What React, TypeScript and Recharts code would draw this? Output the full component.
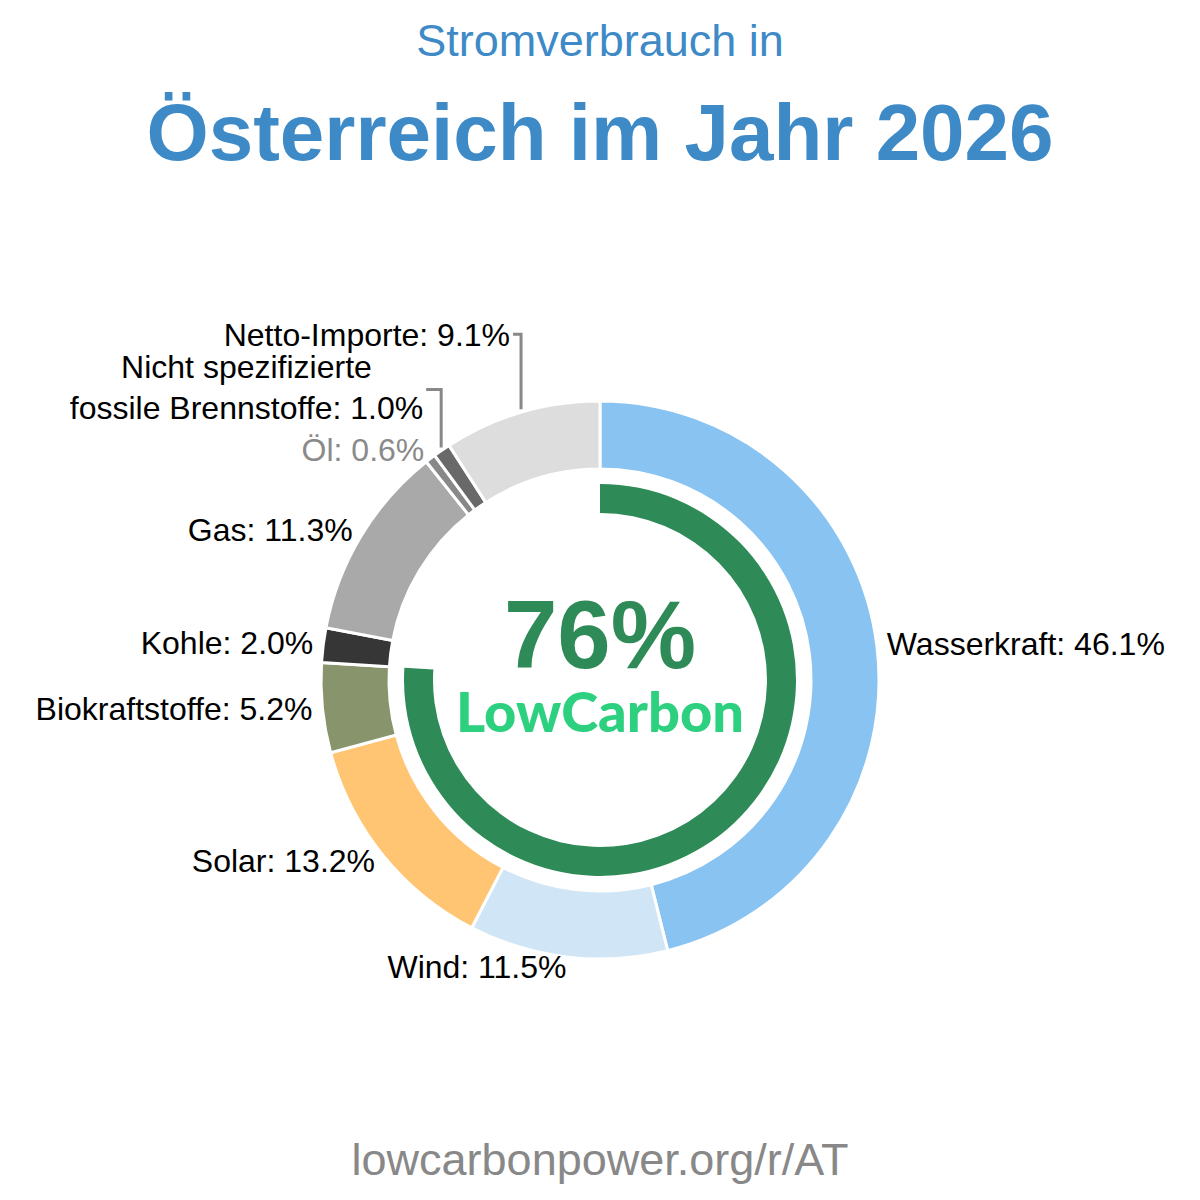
import { PieChart, Pie, Cell } from "recharts";

const SOURCES = [
  "Wasserkraft",
  "Wind",
  "Solar",
  "Biokraftstoffe",
  "Kohle",
  "Gas",
  "Öl",
  "Nicht spezifizierte fossile Brennstoffe",
  "Netto-Importe",
];
const SHARES = [46.1, 11.5, 13.2, 5.2, 2.0, 11.3, 0.6, 1.0, 9.1];
const LOW_CARBON_SHARE = 76;
const TITLE_TOP = "Stromverbrauch in";
const TITLE_MAIN = "Österreich im Jahr 2026";
const FOOTER = "lowcarbonpower.org/r/AT";

const COLORS: { [key: string]: string } = {
  Wasserkraft: "#89c3f2",
  Wind: "#d0e6f6",
  Solar: "#ffc572",
  Biokraftstoffe: "#88946b",
  Kohle: "#363636",
  Gas: "#a9a9a9",
  "Öl": "#888888",
  "Nicht spezifizierte fossile Brennstoffe": "#696969",
  "Netto-Importe": "#dddddd",
};

// labels that get a leader line (rise = px up from slice edge, tail = px left)
const LEADERS: { [key: string]: { rise: number; tail: number; wrap?: boolean } } = {
  "Netto-Importe": { rise: 77, tail: 8 },
  "Nicht spezifizierte fossile Brennstoffe": { rise: 60, tail: 15, wrap: true },
};
const MUTED_LABELS = ["Öl"];

const FONT = "'Liberation Sans', Arial, sans-serif";
const LABEL_SIZE = 32;
const RAD = Math.PI / 180;

const pieData = SOURCES.map((name, i) => ({ name, value: SHARES[i] }));
const ringData = [
  { name: "LowCarbon", value: LOW_CARBON_SHARE },
  { name: "Rest", value: 100 - LOW_CARBON_SHARE },
];

let measureCtx: CanvasRenderingContext2D | null = null;
const textWidth = (s: string) => {
  if (!measureCtx) measureCtx = document.createElement("canvas").getContext("2d");
  if (!measureCtx) return s.length * LABEL_SIZE * 0.5;
  measureCtx.font = `${LABEL_SIZE}px ${FONT}`;
  return measureCtx.measureText(s).width;
};

const renderLabel = (props: any) => {
  const { cx, cy, midAngle, outerRadius, name, value } = props;
  const cos = Math.cos(-midAngle * RAD);
  const sin = Math.sin(-midAngle * RAD);
  const text = `${name}: ${Number(value).toFixed(1)}%`;
  const fill = MUTED_LABELS.includes(name) ? "#8a8a8a" : "#000";
  const leader = LEADERS[name];

  if (leader) {
    const x0 = cx + (outerRadius + 1) * cos;
    const y0 = cy + (outerRadius + 1) * sin;
    const y1 = y0 - leader.rise;
    const x1 = x0 - leader.tail;
    const tx = x1 - 3;
    let content;
    if (leader.wrap) {
      const words = name.split(" ");
      const first = words.slice(0, 2).join(" ");
      const second = `${words.slice(2).join(" ")}: ${Number(value).toFixed(1)}%`;
      const mid = tx - textWidth(second) / 2;
      content = (
        <text x={mid} y={y1} textAnchor="middle" fontSize={LABEL_SIZE} fontFamily={FONT} fill={fill}>
          <tspan x={mid} dy="-0.35em">{first}</tspan>
          <tspan x={mid} dy="1.27em">{second}</tspan>
        </text>
      );
    } else {
      content = (
        <text x={tx} y={y1} dy="0.35em" textAnchor="end" fontSize={LABEL_SIZE} fontFamily={FONT} fill={fill}>
          {text}
        </text>
      );
    }
    return (
      <g>
        <polyline
          points={`${x0},${y0 - 2} ${x0},${y1} ${x1},${y1}`}
          fill="none"
          stroke="#888"
          strokeWidth={3}
        />
        {content}
      </g>
    );
  }

  const r = outerRadius + 10;
  const x = cx + r * cos;
  const y = cy + r * sin;
  return (
    <text
      x={x}
      y={y}
      dy="0.33em"
      textAnchor={x > cx ? "start" : "end"}
      fontSize={LABEL_SIZE}
      fontFamily={FONT}
      fill={fill}
    >
      {text}
    </text>
  );
};

const App = () => {
  return (
    <div style={{ position: "absolute", left: 0, top: 0, width: 1200, height: 1200, background: "#fff" }}>
      <PieChart width={1200} height={1200} margin={{ top: 0, right: 0, bottom: 0, left: 0 }}>
        <Pie
          data={pieData}
          dataKey="value"
          nameKey="name"
          cx={600}
          cy={680}
          startAngle={90}
          endAngle={-270}
          innerRadius={211}
          outerRadius={279}
          stroke="#fff"
          strokeWidth={3}
          label={renderLabel}
          labelLine={false}
          isAnimationActive={false}
        >
          {pieData.map((entry, index) => (
            <Cell key={`cell-${index}`} fill={COLORS[entry.name]} />
          ))}
        </Pie>
        <Pie
          data={ringData}
          dataKey="value"
          nameKey="name"
          cx={600}
          cy={680}
          startAngle={90}
          endAngle={-270}
          innerRadius={167}
          outerRadius={196}
          stroke="none"
          isAnimationActive={false}
        >
          <Cell fill="#2e8b57" />
          <Cell fill="transparent" />
        </Pie>
      </PieChart>
      <svg
        width={1200}
        height={1200}
        style={{ position: "absolute", left: 0, top: 0, pointerEvents: "none" }}
      >
        <text x={600} y={56} textAnchor="middle" fontSize={45} fontFamily={FONT} fill="#3e8ac7">
          {TITLE_TOP}
        </text>
        <text x={600} y={160} textAnchor="middle" fontSize={80} fontWeight="bold" fontFamily={FONT} fill="#3e8ac7">
          {TITLE_MAIN}
        </text>
        <text x={600} y={668} textAnchor="middle" fontSize={96} fontWeight="bold" fontFamily={FONT} fill="#2e8b57">
          {`${LOW_CARBON_SHARE}%`}
        </text>
        <text x={600} y={732} textAnchor="middle" fontSize={56} fontWeight="900" fontFamily="Lato, sans-serif" fill="#2dd07f">
          LowCarbon
        </text>
        <text x={600} y={1175} textAnchor="middle" fontSize={45} fontFamily={FONT} fill="#888">
          {FOOTER}
        </text>
      </svg>
    </div>
  );
};

export default App;
